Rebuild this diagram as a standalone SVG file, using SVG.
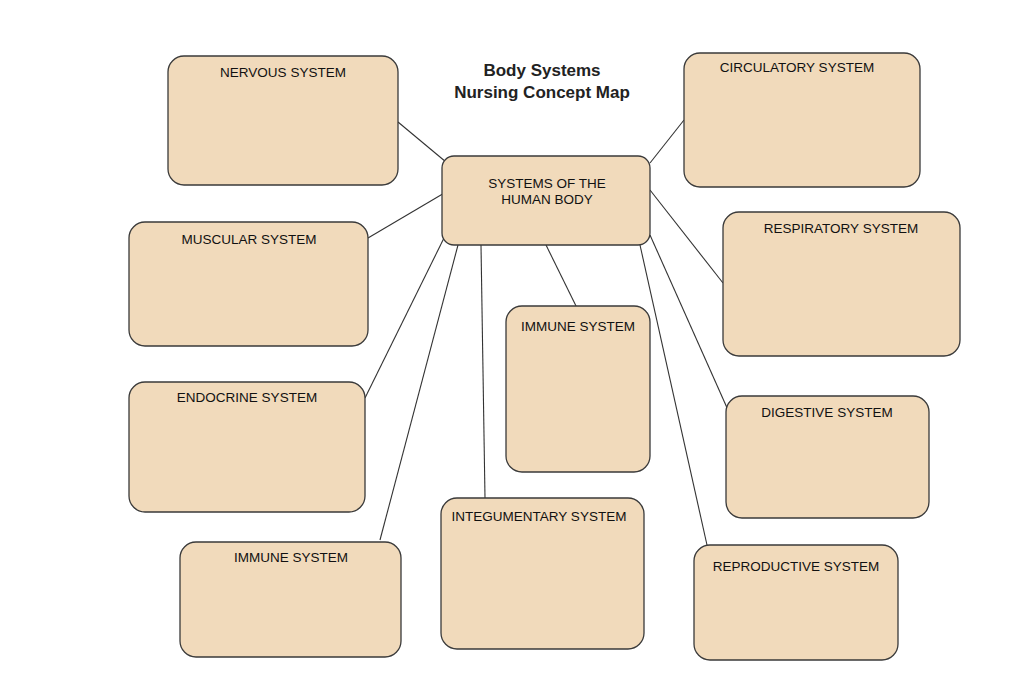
<svg xmlns="http://www.w3.org/2000/svg" width="1024" height="686" viewBox="0 0 1024 686">
<style>
.n{fill:#f1dabb;stroke:#3a3a3a;stroke-width:1.3}
.t{font-family:"Liberation Sans",Arial,sans-serif;font-size:13.5px;fill:#111;text-anchor:middle}
.h{font-family:"Liberation Sans",Arial,sans-serif;font-size:17px;font-weight:bold;fill:#222;text-anchor:middle}
.c line{stroke:#333;stroke-width:1.1}
</style>
<rect width="1024" height="686" fill="#fff"/>
<g class="c">
<line x1="398" y1="122" x2="446" y2="162"/>
<line x1="650" y1="163" x2="684" y2="120"/>
<line x1="446" y1="192" x2="368" y2="238"/>
<line x1="650" y1="190" x2="723" y2="283"/>
<line x1="546" y1="245" x2="578" y2="310"/>
<line x1="444" y1="238" x2="365" y2="398"/>
<line x1="458" y1="245" x2="380" y2="540"/>
<line x1="481" y1="245" x2="485" y2="498"/>
<line x1="640" y1="245" x2="707" y2="545"/>
<line x1="650" y1="235" x2="728" y2="410"/>
</g>
<g id="title"><text class="h" x="542" y="76">Body Systems</text><text class="h" x="542" y="98">Nursing Concept Map</text></g>
<g id="nervous"><rect class="n" x="168" y="56" width="230" height="129" rx="16"/><text class="t" x="283" y="77">NERVOUS SYSTEM</text></g>
<g id="circulatory"><rect class="n" x="684" y="53" width="236" height="134" rx="16"/><text class="t" x="797" y="72">CIRCULATORY SYSTEM</text></g>
<g id="center"><rect class="n" x="442" y="156" width="208" height="89" rx="12"/><text class="t" x="547" y="188">SYSTEMS OF THE</text><text class="t" x="547" y="204">HUMAN BODY</text></g>
<g id="muscular"><rect class="n" x="129" y="222" width="239" height="124" rx="16"/><text class="t" x="249" y="244">MUSCULAR SYSTEM</text></g>
<g id="respiratory"><rect class="n" x="723" y="212" width="237" height="144" rx="16"/><text class="t" x="841" y="233">RESPIRATORY SYSTEM</text></g>
<g id="immune1"><rect class="n" x="506" y="306" width="144" height="166" rx="16"/><text class="t" x="578" y="331">IMMUNE SYSTEM</text></g>
<g id="endocrine"><rect class="n" x="129" y="382" width="236" height="130" rx="16"/><text class="t" x="247" y="402">ENDOCRINE SYSTEM</text></g>
<g id="digestive"><rect class="n" x="726" y="396" width="203" height="122" rx="16"/><text class="t" x="827" y="417">DIGESTIVE SYSTEM</text></g>
<g id="integumentary"><rect class="n" x="441" y="498" width="203" height="151" rx="16"/><text class="t" x="539" y="521">INTEGUMENTARY SYSTEM</text></g>
<g id="immune2"><rect class="n" x="180" y="542" width="221" height="115" rx="16"/><text class="t" x="291" y="562">IMMUNE SYSTEM</text></g>
<g id="reproductive"><rect class="n" x="694" y="545" width="204" height="115" rx="16"/><text class="t" x="796" y="571">REPRODUCTIVE SYSTEM</text></g>
</svg>
